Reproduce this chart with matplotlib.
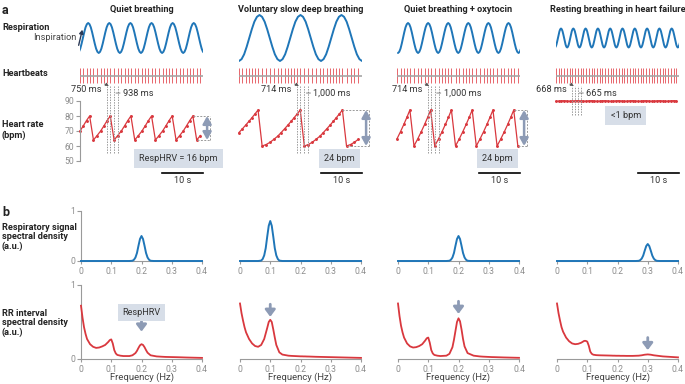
import numpy as np
import matplotlib
matplotlib.use('Agg')
import matplotlib.pyplot as plt

plt.rcParams['font.family'] = ['Roboto', 'DejaVu Sans']

# ---- data ----
titles = ['Quiet breathing', 'Voluntary slow deep breathing',
          'Quiet breathing + oxytocin', 'Resting breathing in heart failure']

# respiration: period (s), time of first trough (s), relative amplitude
breath_period = [5.15, 10.0, 4.9, 3.0]
breath_first_trough = [-0.58, 0.0, 0.24, -0.28]
breath_amp = [0.75, 1.15, 0.75, 0.475]
# one breath sampled from trough to trough
breath_shape = [-1.0, -0.92, -0.71, -0.38, 0.0, 0.38, 0.71, 0.92,
                1.0, 0.92, 0.71, 0.38, 0.0, -0.38, -0.71, -0.92]

# heart rate (bpm) of successive beats over one breath
hr_cycles = [
    [64, 67, 70, 73.5, 77, 80],
    [60, 61, 62.5, 64.5, 66.5, 69, 71.5, 74, 76.5, 79, 81.5, 84],
    [60, 64.8, 69.6, 74.4, 79.2, 84],
    [89.8, 89.9, 90.1, 90.2, 90.0],
]
hr_start = [2, 5, 1, 0]
hr_mark_beat = [None, None, None, 7]
rr_labels = [('750 ms', '938 ms'), ('714 ms', '1,000 ms'),
             ('714 ms', '1,000 ms'), ('668 ms', '665 ms')]
resphrv_labels = ['RespHRV = 16 bpm', '24 bpm', '24 bpm', '<1 bpm']
hr_ticks = [50, 60, 70, 80, 90]

# respiratory spectral peak
resp_peak_freq = [0.2, 0.1, 0.2, 0.3]
resp_peak_height = [0.5, 0.8, 0.5, 0.34]
peak_offsets = [-0.04, -0.03, -0.025, -0.02, -0.015, -0.01, -0.005, 0,
                0.005, 0.01, 0.015, 0.02, 0.025, 0.03, 0.04]
peak_shape = [0, 0.01, 0.05, 0.14, 0.32, 0.61, 0.88, 1.0,
              0.88, 0.61, 0.32, 0.14, 0.05, 0.01, 0]

# RR interval spectral density
rr_freq = [0, 0.005, 0.01, 0.015, 0.02, 0.03, 0.04, 0.05, 0.06, 0.07, 0.08,
           0.09, 0.095, 0.1, 0.105, 0.11, 0.115, 0.12, 0.13, 0.14, 0.16, 0.17,
           0.18, 0.185, 0.19, 0.195, 0.2, 0.205, 0.21, 0.215, 0.22, 0.23, 0.25,
           0.27, 0.28, 0.29, 0.3, 0.31, 0.32, 0.35, 0.4]
rr_quiet = [0.72, 0.56, 0.43, 0.34, 0.27, 0.20, 0.165, 0.15, 0.155, 0.17, 0.19,
            0.23, 0.255, 0.265, 0.21, 0.12, 0.075, 0.055, 0.045, 0.04, 0.04, 0.05,
            0.08, 0.11, 0.15, 0.185, 0.2, 0.19, 0.16, 0.12, 0.085, 0.05, 0.035,
            0.03, 0.028, 0.027, 0.026, 0.025, 0.024, 0.02, 0.015]
rr_slow = [0.75, 0.62, 0.52, 0.43, 0.36, 0.27, 0.21, 0.175, 0.165, 0.19, 0.27,
           0.42, 0.5, 0.53, 0.5, 0.4, 0.29, 0.19, 0.09, 0.06, 0.045, 0.042,
           0.04, 0.039, 0.038, 0.037, 0.036, 0.036, 0.035, 0.035, 0.034, 0.033, 0.03,
           0.028, 0.027, 0.026, 0.025, 0.024, 0.023, 0.02, 0.015]
rr_oxy = [0.75, 0.58, 0.45, 0.36, 0.29, 0.21, 0.17, 0.155, 0.16, 0.175, 0.2,
          0.25, 0.28, 0.29, 0.22, 0.12, 0.075, 0.055, 0.045, 0.04, 0.045, 0.07,
          0.16, 0.26, 0.38, 0.5, 0.55, 0.51, 0.4, 0.27, 0.17, 0.08, 0.045,
          0.035, 0.032, 0.03, 0.028, 0.026, 0.025, 0.021, 0.016]
rr_hf = [0.75, 0.62, 0.52, 0.43, 0.37, 0.29, 0.24, 0.21, 0.2, 0.205, 0.22,
         0.245, 0.245, 0.235, 0.18, 0.1, 0.07, 0.058, 0.052, 0.05, 0.048, 0.047,
         0.046, 0.045, 0.045, 0.044, 0.044, 0.044, 0.043, 0.043, 0.043, 0.042, 0.042,
         0.045, 0.05, 0.058, 0.062, 0.058, 0.05, 0.035, 0.022]
rr_psd = [rr_quiet, rr_slow, rr_oxy, rr_hf]
resphrv_freq = [0.2, 0.1, 0.2, 0.3]
arrow_tip = [0.37, 0.57, 0.61, 0.12]

freq_ticks = [0, 0.1, 0.2, 0.3, 0.4]
freq_ticklabels = ['0', '0.1', '0.2', '0.3', '0.4']

# ---- style ----
BLUE = '#1f76b8'
RED = '#d9383e'
BEAT = '#e8666c'
GREY = '#8d8d8d'
ARROW = '#8d9bb5'
BOX = '#d7dee8'
DARK = '#222222'
FS = 6.6

W, H = 685, 384
fig = plt.figure(figsize=(W / 100, H / 100), dpi=100)


def px_axes(x0, top, w, h):
    ax = fig.add_axes([x0 / W, 1 - (top + h) / H, w / W, h / H])
    ax.patch.set_alpha(0)
    return ax


def ftext(x, y, s, **kw):
    kw.setdefault('va', 'center')
    kw.setdefault('fontsize', FS)
    kw.setdefault('color', DARK)
    return fig.text(x / W, 1 - y / H, s, **kw)


def bare(ax):
    for sp in ax.spines.values():
        sp.set_visible(False)
    ax.set_xticks([])
    ax.set_yticks([])


def beat_train(cycle, start):
    times, hrs = [0.0], [cycle[start % len(cycle)]]
    i = start
    while times[-1] < 30.0:
        i += 1
        hr = cycle[i % len(cycle)]
        times.append(times[-1] + 60.0 / hr)
        hrs.append(hr)
    times, hrs = np.array(times), np.array(hrs)
    keep = times <= 30.0
    return times[keep], hrs[keep]


col_x = [80, 239, 397, 556]
col_w = 123

# left labels
ftext(2, 10, 'a', fontsize=9, fontweight='bold')
ftext(2, 27, 'Respiration', fontweight='bold')
ftext(76, 38, 'Inspiration', ha='right', color='#444444')
fig.add_artist(matplotlib.patches.FancyArrowPatch(
    (78 / W, 1 - 48 / H), (83 / W, 1 - 27 / H), transform=fig.transFigure,
    arrowstyle='-|>,head_width=1.2,head_length=2.2', lw=1.0, color='#2d3b57'))
ftext(2, 73, 'Heartbeats', fontweight='bold')
ftext(2, 130, 'Heart rate\n(bpm)', fontweight='bold', linespacing=1.1)
ftext(2, 213, 'b', fontsize=9, fontweight='bold')
ftext(2, 237, 'Respiratory signal\nspectral density\n(a.u.)', fontweight='bold',
      linespacing=1.1)
ftext(2, 323, 'RR interval\nspectral density\n(a.u.)', fontweight='bold',
      linespacing=1.1)

for c in range(4):
    x0 = col_x[c]
    ftext(x0 + col_w / 2, 10, titles[c], ha='center', fontweight='bold')

    # respiration trace
    ax = px_axes(x0, 8, col_w, 60)
    bare(ax)
    ts, ys = [], []
    n = 0
    while True:
        done = False
        for j, s in enumerate(breath_shape):
            t = breath_first_trough[c] + (n + j / len(breath_shape)) * breath_period[c]
            ts.append(t)
            ys.append(breath_amp[c] * s)
            if t > 30.5:
                done = True
                break
        if done:
            break
        n += 1
    ax.plot(ts, ys, color=BLUE, lw=1.4, solid_capstyle='round')
    ax.set_xlim(0, 30)
    ax.set_ylim(-1.5, 1.5)

    times, hrs = beat_train(hr_cycles[c], hr_start[c])

    # heartbeats
    axb = px_axes(x0, 66, col_w, 20)
    bare(axb)
    axb.vlines(times, 0.15, 0.9, color=BEAT, lw=0.7)
    axb.plot([0, 30], [0.525, 0.525], color='#a5a5a5', lw=1.2)
    axb.set_xlim(0, 30)
    axb.set_ylim(0, 1)

    # heart rate
    axh = px_axes(x0, 101, col_w, 60)
    axh.plot(times, hrs, color=RED, lw=0.9, marker='o', ms=1.1, clip_on=False)
    axh.set_xlim(0, 30)
    axh.set_ylim(50, 90)
    for sp in axh.spines.values():
        sp.set_visible(False)
    axh.set_xticks([])
    if c == 0:
        axh.spines['left'].set_visible(True)
        axh.spines['left'].set_color('#9a9a9a')
        axh.spines['left'].set_linewidth(0.8)
        axh.set_yticks(hr_ticks)
        axh.tick_params(axis='y', length=3, width=0.8, color='#9a9a9a',
                        labelsize=FS - 0.4, labelcolor=GREY, pad=1)
    else:
        axh.set_yticks([])
    tr = axh.get_xaxis_transform()

    # RR interval markers
    if hr_mark_beat[c] is None:
        peaks = np.where(hrs == max(hr_cycles[c]))[0]
        k = peaks[1]
    else:
        k = hr_mark_beat[c]
    low = 0.133 if c < 3 else 0.767
    for idx in (k - 1, k, k + 1, k + 2):
        axh.plot([times[idx], times[idx]], [low, 1.25], transform=tr,
                 color='#9a9a9a', lw=0.7, ls=(0, (1.5, 1.2)), clip_on=False)
    axh.annotate(rr_labels[c][0], xy=((times[k - 1] + times[k]) / 2, 1.25),
                 xycoords=tr, xytext=(-5, -2.5), textcoords='offset points',
                 ha='right', va='center', fontsize=FS, color='#333333',
                 arrowprops=dict(arrowstyle='-|>,head_width=0.15,head_length=0.3',
                                 connectionstyle='arc3,rad=-0.4', lw=0.5,
                                 color='#555555', shrinkA=0, shrinkB=0))
    axh.annotate(rr_labels[c][1], xy=((times[k + 1] + times[k + 2]) / 2, 1.133),
                 xycoords=tr, xytext=(5, 0), textcoords='offset points',
                 ha='left', va='center', fontsize=FS, color='#333333',
                 arrowprops=dict(arrowstyle='-', lw=0.5, color='#555555',
                                 shrinkA=0, shrinkB=0))

    # swing bracket and arrow
    if c < 3:
        hi, lo = max(hr_cycles[c]), min(hr_cycles[c])
        t_hi = times[np.where(hrs == hi)[0][-1]]
        t_lo = times[np.where(hrs == lo)[0][-1]]
        xr = 31.6
        dash = dict(color='#9a9a9a', lw=0.7, ls=(0, (2, 1.5)), clip_on=False)
        axh.plot([t_hi, xr], [hi, hi], **dash)
        axh.plot([t_lo, xr], [lo, lo], **dash)
        axh.plot([xr, xr], [lo, hi], **dash)
        axh.annotate('', xy=(xr - 0.6, hi), xytext=(xr - 0.6, lo),
                     arrowprops=dict(arrowstyle='<|-|>,head_width=0.25,head_length=0.45',
                                     lw=1.8, color=ARROW, shrinkA=0, shrinkB=0),
                     annotation_clip=False)
        axh.text(20 + 4.5 if c else 24, 51.6, resphrv_labels[c], ha='center',
                 va='center', fontsize=FS, color='#333333',
                 bbox=dict(boxstyle='square,pad=0.55', fc=BOX, ec='none'),
                 clip_on=False)
    else:
        axh.text(17, 80.2, resphrv_labels[c], ha='center', va='center',
                 fontsize=FS, color='#333333',
                 bbox=dict(boxstyle='square,pad=0.55', fc=BOX, ec='none'),
                 clip_on=False)

    # 10 s scale bar
    axh.plot([20, 30], [-0.2, -0.2], transform=tr, color='black', lw=1.2,
             clip_on=False)
    axh.text(25, -0.33, '10 s', transform=tr, ha='center', va='center',
             fontsize=FS, color='#333333')

    # spectra
    for top, h, kind in ((211, 50, 'resp'), (285, 74, 'rr')):
        axs = px_axes(x0 + 1, top, col_w - 2, h)
        if kind == 'resp':
            fx = [0] + [resp_peak_freq[c] + o for o in peak_offsets] + [0.4]
            fy = [0] + [resp_peak_height[c] * v for v in peak_shape] + [0]
            axs.plot(fx, fy, color=BLUE, lw=1.4, clip_on=False, zorder=3)
        else:
            axs.plot(rr_freq, rr_psd[c], color=RED, lw=1.3, clip_on=False,
                     zorder=3)
            axs.annotate('', xy=(resphrv_freq[c], arrow_tip[c]),
                         xytext=(resphrv_freq[c], arrow_tip[c] + 0.17),
                         arrowprops=dict(arrowstyle='-|>,head_width=0.3,head_length=0.4',
                                         lw=2.0, color=ARROW, shrinkA=0, shrinkB=0))
            if c == 0:
                axs.text(0.2, 0.63, 'RespHRV', ha='center', va='center',
                         fontsize=FS, color='#333333',
                         bbox=dict(boxstyle='square,pad=0.45', fc=BOX, ec='none'))
            ftext(x0 + col_w / 2, 377, 'Frequency (Hz)', ha='center',
                  fontsize=FS + 0.2, color='#444444')
        axs.set_xlim(0, 0.4)
        axs.set_ylim(0, 1)
        for sp in ('top', 'right'):
            axs.spines[sp].set_visible(False)
        axs.spines['bottom'].set_color('#9a9a9a')
        axs.spines['bottom'].set_linewidth(0.8)
        axs.set_xticks(freq_ticks)
        axs.set_xticklabels(freq_ticklabels)
        axs.tick_params(axis='x', length=2.5, width=0.8, color='#9a9a9a',
                        labelsize=FS - 0.4, labelcolor=GREY, pad=1.5)
        if c == 0:
            axs.spines['left'].set_color('#9a9a9a')
            axs.spines['left'].set_linewidth(0.8)
            axs.set_yticks([0, 1])
            axs.tick_params(axis='y', length=3, width=0.8, color='#9a9a9a',
                            labelsize=FS - 0.4, labelcolor=GREY, pad=1)
        else:
            axs.spines['left'].set_visible(False)
            axs.set_yticks([])

fig.savefig('out.png', dpi=100)
